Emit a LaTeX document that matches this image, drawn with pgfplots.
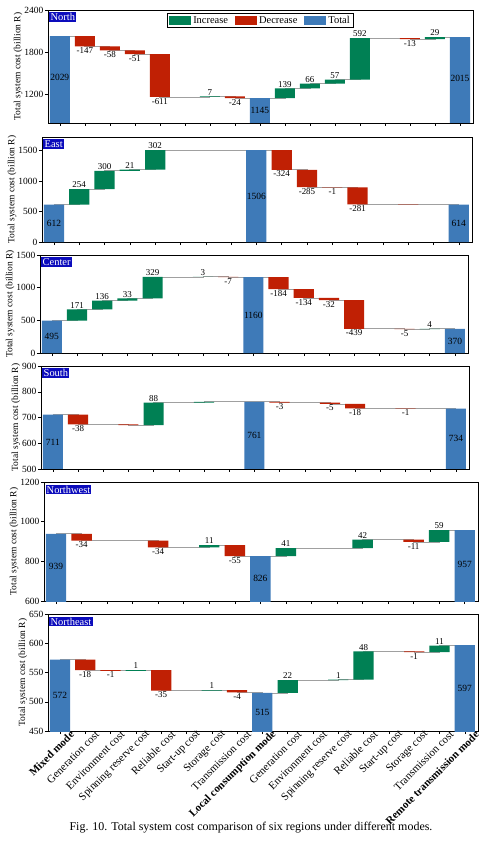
\documentclass[border=0pt]{standalone}
\usepackage{fontspec}
\setmainfont{Liberation Serif}
\usepackage{pgfplots}
\pgfplotsset{compat=1.18}
\usepackage{pgfplotstable}

\definecolor{incr}{RGB}{0,128,84}
\definecolor{decr}{RGB}{192,32,4}
\definecolor{totl}{RGB}{62,122,184}
\definecolor{regbox}{RGB}{12,12,188}
\definecolor{conncol}{RGB}{160,160,160}

\newcommand{\fs}[1]{\fontsize{#1}{#1}\selectfont}

% columns: category, invisible base, increase, decrease, total, running level
\pgfplotstableread{
x base inc dec tot run
0 0 0 0 2029 2029
1 1882 0 147 0 1882
2 1824 0 58 0 1824
3 1773 0 51 0 1773
4 1162 0 611 0 1162
5 1162 0 0 0 1162
6 1162 7 0 0 1169
7 1145 0 24 0 1145
8 0 0 0 1145 1145
9 1145 139 0 0 1284
10 1284 66 0 0 1350
11 1350 57 0 0 1407
12 1407 592 0 0 1999
13 1999 0 0 0 1999
14 1986 0 13 0 1986
15 1986 29 0 0 2015
16 0 0 0 2015 2015
}\tabNorth

\pgfplotstableread{
x base inc dec tot run
0 0 0 0 612 612
1 612 254 0 0 866
2 866 300 0 0 1166
3 1166 21 0 0 1187
4 1187 319 0 0 1506
5 1506 0 0 0 1506
6 1506 0 0 0 1506
7 1506 0 0 0 1506
8 0 0 0 1506 1506
9 1182 0 324 0 1182
10 897 0 285 0 897
11 896 0 1 0 896
12 615 0 281 0 615
13 615 0 0 0 615
14 614 0 1 0 614
15 614 0 0 0 614
16 0 0 0 614 614
}\tabEast

\pgfplotstableread{
x base inc dec tot run
0 0 0 0 495 495
1 495 171 0 0 666
2 666 136 0 0 802
3 802 33 0 0 835
4 835 329 0 0 1164
5 1164 0 0 0 1164
6 1164 3 0 0 1167
7 1160 0 7 0 1160
8 0 0 0 1160 1160
9 976 0 184 0 976
10 842 0 134 0 842
11 810 0 32 0 810
12 371 0 439 0 371
13 371 0 0 0 371
14 366 0 5 0 366
15 366 4 0 0 370
16 0 0 0 370 370
}\tabCenter

\pgfplotstableread{
x base inc dec tot run
0 0 0 0 711 711
1 673 0 38 0 673
2 673 0 0 0 673
3 670 0 3 0 670
4 670 88 0 0 758
5 758 0 0 0 758
6 758 3 0 0 761
7 761 0 0 0 761
8 0 0 0 761 761
9 758 0 3 0 758
10 758 0 0 0 758
11 753 0 5 0 753
12 735 0 18 0 735
13 735 0 0 0 735
14 734 0 1 0 734
15 734 0 0 0 734
16 0 0 0 734 734
}\tabSouth

\pgfplotstableread{
x base inc dec tot run
0 0 0 0 939 939
1 905 0 34 0 905
2 905 0 0 0 905
3 905 0 0 0 905
4 871 0 34 0 871
5 871 0 0 0 871
6 871 11 0 0 882
7 826 0 56 0 826
8 0 0 0 826 826
9 826 41 0 0 867
10 867 0 0 0 867
11 867 0 0 0 867
12 867 42 0 0 909
13 909 0 0 0 909
14 898 0 11 0 898
15 898 59 0 0 957
16 0 0 0 957 957
}\tabNorthwest

\pgfplotstableread{
x base inc dec tot run
0 0 0 0 572 572
1 554 0 18 0 554
2 553 0 1 0 553
3 553 1 0 0 554
4 519 0 35 0 519
5 519 0 0 0 519
6 519 1 0 0 520
7 516 0 4 0 516
8 0 0 0 515 515
9 515 22 0 0 537
10 537 0 0 0 537
11 537 1 0 0 538
12 538 48 0 0 586
13 586 0 0 0 586
14 585 0 1 0 585
15 585 11 0 0 596
16 0 0 0 597 597
}\tabNortheast

\pgfplotsset{
  wf/.style={
    scale only axis, anchor=north west,
    bar width=0.8,
    xmin=-0.47, xmax=16.52,
    xtick={0,...,16}, xticklabels={},
    tick align=outside, tick pos=left,
    major tick length=3bp,
    axis line style={line width=0.6bp},
    every tick/.style={black, line width=0.5bp},
    ylabel={Total system cost (billion R)},
    ylabel style={font=\fs{9.5}, yshift=-3bp},
    yticklabel style={font=\fs{9.5}, inner sep=1.5bp},
    /pgf/number format/assume math mode=true,
    /pgf/number format/1000 sep={},
  },
  wfbar/.style={ybar stacked, bar width=0.8, draw=none,
    legend image code/.code={\fill[##1] (0bp,-4.5bp) rectangle (22bp,4.5bp);}},
  wfbase/.style={wfbar, fill=none, forget plot},
  wfinc/.style={wfbar, fill=incr},
  wfdec/.style={wfbar, fill=decr},
  wftot/.style={wfbar, fill=totl},
  wfconn/.style={stack plots=false, const plot, conncol, line width=0.7bp, forget plot},
  wflab/.style={stack plots=false, sharp plot, draw=none, mark=none, forget plot,
    nodes near coords, point meta=explicit symbolic},
  wfup/.style={wflab, nodes near coords style={anchor=south, font=\fs{9}, inner sep=1bp}},
  wfdn/.style={wflab, nodes near coords style={anchor=north, font=\fs{9}, inner sep=1bp}},
  wfmid/.style={wflab, nodes near coords style={anchor=center, font=\fs{9.5}, inner sep=0pt}},
}
\tikzset{regname/.style={fill=regbox, text=white, anchor=north west, font=\fs{10.5}, inner sep=1.2bp}}

\begin{document}
\begin{tikzpicture}
\useasboundingbox (0,0) rectangle (493bp,-842bp);

% ---------------- North
\begin{axis}[wf, at={(48bp,-10bp)}, width=425bp, height=113bp,
  ymin=790, ymax=2400, ytick={1200,1800,2400},
  legend style={at={(0.5,0.975)}, anchor=north, legend columns=3, draw=black,
    line width=0.8bp, font=\fs{10.5}, inner xsep=1.5bp, inner ysep=0.8bp,
    /tikz/every even column/.append style={column sep=5bp}}]
\addplot[wfconn] table[x=x, y=run] {\tabNorth};
\addplot[wfbase] table[x=x, y=base] {\tabNorth};
\addplot[wfinc] table[x=x, y=inc] {\tabNorth};
\addlegendentry{Increase}
\addplot[wfdec] table[x=x, y=dec] {\tabNorth};
\addlegendentry{Decrease}
\addplot[wftot] table[x=x, y=tot] {\tabNorth};
\addlegendentry{Total}
\addplot[wfup] coordinates {(6,1169)[7] (9,1284)[139] (10,1350)[66] (11,1407)[57] (12,1999)[592] (15,2015)[29]};
\addplot[wfdn] coordinates {(1,1882)[-147] (2,1824)[-58] (3,1773)[-51] (4,1162)[-611] (7,1145)[-24] (14,1986)[-13]};
\addplot[wfmid] coordinates {(0,1440)[2029] (8,968)[1145] (16,1430)[2015]};
\node[regname] at (rel axis cs:0.003,0.98) {North};
\end{axis}

% ---------------- East
\begin{axis}[wf, at={(42bp,-137bp)}, width=430bp, height=105bp,
  ymin=0, ymax=1720, ytick={0,500,1000,1500}]
\addplot[wfconn] table[x=x, y=run] {\tabEast};
\addplot[wfbase] table[x=x, y=base] {\tabEast};
\addplot[wfinc] table[x=x, y=inc] {\tabEast};
\addplot[wfdec] table[x=x, y=dec] {\tabEast};
\addplot[wftot] table[x=x, y=tot] {\tabEast};
\addplot[wfup] coordinates {(1,866)[254] (2,1166)[300] (3,1187)[21] (4,1506)[302]};
\addplot[wfdn] coordinates {(9,1182)[-324] (10,897)[-285] (11,896)[-1] (12,615)[-281]};
\addplot[wfmid] coordinates {(0,306)[612] (8,753)[1506] (16,307)[614]};
\node[regname] at (rel axis cs:0.003,0.98) {East};
\end{axis}

% ---------------- Center
\begin{axis}[wf, at={(40bp,-255bp)}, width=428bp, height=98bp,
  ymin=0, ymax=1500, ytick={0,500,1000,1500}]
\addplot[wfconn] table[x=x, y=run] {\tabCenter};
\addplot[wfbase] table[x=x, y=base] {\tabCenter};
\addplot[wfinc] table[x=x, y=inc] {\tabCenter};
\addplot[wfdec] table[x=x, y=dec] {\tabCenter};
\addplot[wftot] table[x=x, y=tot] {\tabCenter};
\addplot[wfup] coordinates {(1,666)[171] (2,802)[136] (3,835)[33] (4,1164)[329] (6,1167)[3] (15,370)[4]};
\addplot[wfdn] coordinates {(7,1160)[-7] (9,976)[-184] (10,842)[-134] (11,810)[-32] (12,371)[-439] (14,366)[-5]};
\addplot[wfmid] coordinates {(0,247)[495] (8,580)[1160] (16,185)[370]};
\node[regname] at (rel axis cs:0.003,0.98) {Center};
\end{axis}

% ---------------- South
\begin{axis}[wf, at={(41bp,-366bp)}, width=428bp, height=103bp,
  ymin=500, ymax=900, ytick={500,600,700,800,900}]
\addplot[wfconn] table[x=x, y=run] {\tabSouth};
\addplot[wfbase] table[x=x, y=base] {\tabSouth};
\addplot[wfinc] table[x=x, y=inc] {\tabSouth};
\addplot[wfdec] table[x=x, y=dec] {\tabSouth};
\addplot[wftot] table[x=x, y=tot] {\tabSouth};
\addplot[wfup] coordinates {(4,758)[88]};
\addplot[wfdn] coordinates {(1,673)[-38] (9,758)[-3] (11,753)[-5] (12,735)[-18] (14,734)[-1]};
\addplot[wfmid] coordinates {(0,605)[711] (8,630)[761] (16,617)[734]};
\node[regname] at (rel axis cs:0.003,0.98) {South};
\end{axis}

% ---------------- Northwest
\begin{axis}[wf, at={(44bp,-482bp)}, width=434bp, height=119bp,
  ymin=600, ymax=1200, ytick={600,800,1000,1200}]
\addplot[wfconn] table[x=x, y=run] {\tabNorthwest};
\addplot[wfbase] table[x=x, y=base] {\tabNorthwest};
\addplot[wfinc] table[x=x, y=inc] {\tabNorthwest};
\addplot[wfdec] table[x=x, y=dec] {\tabNorthwest};
\addplot[wftot] table[x=x, y=tot] {\tabNorthwest};
\addplot[wfup] coordinates {(6,882)[11] (9,867)[41] (12,909)[42] (15,957)[59]};
\addplot[wfdn] coordinates {(1,905)[-34] (4,871)[-34] (7,826)[-55] (14,898)[-11]};
\addplot[wfmid] coordinates {(0,775)[939] (8,713)[826] (16,782)[957]};
\node[regname] at (rel axis cs:0.003,0.98) {Northwest};
\end{axis}

% ---------------- Northeast
\begin{axis}[wf, at={(48bp,-614bp)}, width=430bp, height=117bp,
  ymin=450, ymax=650, ytick={450,500,550,600,650},
  xticklabels={\textbf{Mixed mode}, Generation cost, Environment cost,
    Spinning reserve cost, Reliable cost, Start-up cost, Storage cost,
    Transmission cost, \textbf{Local consumption mode}, Generation cost,
    Environment cost, Spinning reserve cost, Reliable cost, Start-up cost,
    Storage cost, Transmission cost, \textbf{Remote transmission mode}},
  xticklabel style={font=\fs{11}, xshift=13bp, yshift=2bp, rotate=45, anchor=east, inner sep=1bp}]
\addplot[wfconn] table[x=x, y=run] {\tabNortheast};
\addplot[wfbase] table[x=x, y=base] {\tabNortheast};
\addplot[wfinc] table[x=x, y=inc] {\tabNortheast};
\addplot[wfdec] table[x=x, y=dec] {\tabNortheast};
\addplot[wftot] table[x=x, y=tot] {\tabNortheast};
\addplot[wfup] coordinates {(3,554)[1] (6,520)[1] (9,537)[22] (11,538)[1] (12,586)[48] (15,596)[11]};
\addplot[wfdn] coordinates {(1,554)[-18] (2,553)[-1] (4,519)[-35] (7,516)[-4] (14,585)[-1]};
\addplot[wfmid] coordinates {(0,511)[572] (8,482)[515] (16,523)[597]};
\node[regname] at (rel axis cs:0.003,0.98) {Northeast};
\end{axis}

\node[font=\fs{12}] at (251bp,-828bp) {Fig. 10. Total system cost comparison of six regions under different modes.};
\end{tikzpicture}
\end{document}
